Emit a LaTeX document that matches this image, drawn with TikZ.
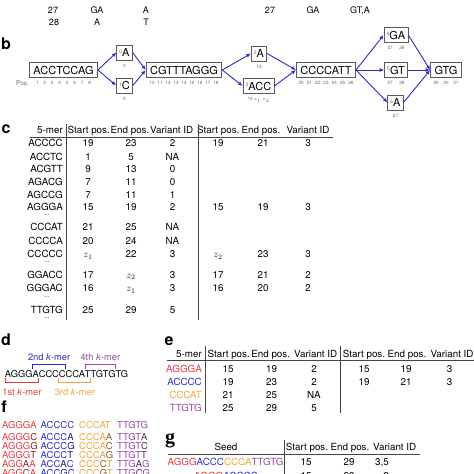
\documentclass[tikz,border=0pt]{standalone}
\usepackage{fontspec}
\setmainfont{TeX Gyre Heros}
\newfontfamily\glabelfont{Liberation Serif}
\usetikzlibrary{arrows.meta, positioning, calc}
\definecolor{kred}{HTML}{E8383D}
\definecolor{kblue}{HTML}{2B2BD0}
\definecolor{korange}{HTML}{F2A33A}
\definecolor{kpurple}{HTML}{9646A8}
\definecolor{arrowcol}{HTML}{2A2AD6}
\definecolor{idcol}{HTML}{C8465A}
\definecolor{boxcol}{HTML}{5A5A5A}
\definecolor{rulecol}{HTML}{464646}
\newcommand{\vid}[1]{\raisebox{3.4pt}{\fontsize{5}{5}\selectfont\color{idcol}#1}}
\newcommand{\mk}[1]{\textcolor{.!55!black}{#1}}

\begin{document}
\begin{tikzpicture}[x=1pt, y=-1pt,
  panel/.style={font=\fontsize{16}{16}\selectfont\bfseries, inner sep=0pt},
  seqbox/.style={draw=boxcol, line width=0.8pt, inner xsep=4pt, inner ysep=1pt,
    minimum height=15pt, font=\fontsize{11}{11}\selectfont},
  varbox/.style={seqbox, inner xsep=2.6pt},
  posnum/.style={font=\fontsize{4.6}{5}\selectfont, text=black!60, inner sep=0.3pt,
    below=3pt of #1},
  conn/.style={-{Latex[length=4.5pt, width=3.8pt]}, draw=arrowcol, line width=0.9pt},
  cell/.style={font=\fontsize{9.8}{11}\selectfont, inner sep=0pt, text height=7pt, text depth=0pt},
  kmer/.style={cell, anchor=east},
  tline/.style={draw=rulecol, line width=0.9pt},
  dots/.style={font=\fontsize{6}{6}\selectfont, inner sep=0pt},
  seq/.style={font=\fontsize{9.3}{10}\selectfont, inner sep=0pt, outer sep=0pt, anchor=base west},
  brk/.style={line width=0.9pt},
  klab/.style={font=\fontsize{9.3}{10}\selectfont, inner sep=0pt},
  mutrow/.style={font=\fontsize{9.5}{9}\selectfont, inner sep=0pt, anchor=west,
    text height=6.8pt, text depth=0pt},
]
\useasboundingbox (0,0) rectangle (474,474);
\clip (0,0) rectangle (474,474);

% =================== top: end of panel a ===================
\foreach \x/\y/\t [count=\i] in {53/10/27, 97/10/GA, 146/10/A, 270/10/27, 313/10/GA,
    360/10/{GT,A}, 54/22.2/28, 97/22.2/A, 146/22.2/T}
  \node[cell, font=\fontsize{9}{10}\selectfont] (a\i) at (\x,\y) {\t};

% =================== b: variant graph ===================
\node[panel] (lab-b) at (6,44) {b};
\node[seqbox] (acc) at (63.5,70) {ACCTCCAG};
\node[varbox] (v0) at (124.5,52.5) {\vid{0}A};
\node[varbox] (v1) at (124.5,85.5) {\vid{1}C};
\node[seqbox] (cgt) at (184,70) {CGTTTAGGG};
\node[varbox] (v2) at (259,53.5) {\vid{2}A};
\node[varbox] (v3) at (258.5,86) {\vid{3}ACC};
\node[seqbox] (ccc) at (326,70) {CCCCATT};
\node[varbox] (v4) at (396,35) {\vid{4}GA};
\node[varbox] (v5) at (396,70) {\vid{5}GT};
\node[varbox] (v6) at (395.5,102.5) {\vid{6}A};
\node[seqbox] (gtg) at (446,70) {GTG};

% positions under the boxes
\node[posnum=acc] (acc-pos) {\makebox[55pt][s]{1 2 3 4 5 6 7 8}};
\node[font=\fontsize{6.5}{7}\selectfont, text=black!60, inner sep=0.3pt,
  left=6pt of acc-pos] (pos-lab) {Pos.};
\node[posnum=v0] (v0-pos) {9};
\node[posnum=v1] (v1-pos) {9};
\node[posnum=cgt] (cgt-pos) {\makebox[69pt][s]{10 11 12 13 14 15 16 17 18}};
\node[posnum=v2] (v2-pos) {19};
\node[posnum=v3] (v3-pos) {\makebox[22pt][s]{19 $z_1$ $z_2$}};
\node[posnum=ccc] (ccc-pos) {\makebox[55pt][s]{20 21 22 23 24 25 26}};
\node[posnum=v4] (v4-pos) {\makebox[17pt][s]{27 28}};
\node[posnum=v5] (v5-pos) {\makebox[17pt][s]{27 28}};
\node[posnum=v6] (v6-pos) {27};
\node[posnum=gtg] (gtg-pos) {\makebox[25pt][s]{29 30 31}};

\foreach \a/\b in {acc/v0, acc/v1, v0/cgt, v1/cgt, cgt/v2, cgt/v3, v2/ccc, v3/ccc,
    ccc/v4, ccc/v5, ccc/v6, v4/gtg, v5/gtg, v6/gtg}
  \draw[conn] (\a.east) -- (\b.west);

% =================== c: 5-mer table ===================
\node[panel] (lab-c) at (6,129) {c};
\node[kmer] (c-h0) at (63,130) {5-mer};
\foreach \x/\t [count=\i] in {88.7/Start pos., 130/End pos., 171.7/Variant ID,
    218.3/Start pos., 261/End pos., 308/Variant ID}
  \node[cell] (c-h\i) at (\x,130) {\t};
\draw[tline] (30,137) -- (333,137);
\draw[tline] (66,124) -- (66,320);
\draw[tline] (198,124) -- (198,320);

\foreach \y/\k/\s/\e/\v [count=\i] in {143/ACCCC/19/23/2, 156.5/ACCTC/1/5/NA,
    169/ACGTT/9/13/0, 181.5/AGACG/7/11/0, 194.5/AGCCG/7/11/1, 207/AGGGA/15/19/2,
    226.5/CCCAT/21/25/NA, 240.5/CCCCA/20/24/NA, 254/CCCCC/{$z_1$}/22/3,
    274.5/GGACC/17/{$z_2$}/3, 288/GGGAC/16/{$z_1$}/3, 310/TTGTG/25/29/5} {
  \node[kmer] (c-k\i) at (63,\y) {\k};
  \node[cell] (c-s\i) at (88,\y) {\s};
  \node[cell] (c-e\i) at (131,\y) {\e};
  \node[cell] (c-v\i) at (172.5,\y) {\v};
}
\foreach \y/\s/\e/\v [count=\i] in {143/19/21/3, 207/15/19/3, 254/{$z_2$}/23/3,
    274.5/17/21/2, 288/16/20/2} {
  \node[cell] (c-ss\i) at (218,\y) {\s};
  \node[cell] (c-ee\i) at (263,\y) {\e};
  \node[cell] (c-vv\i) at (308,\y) {\v};
}
\foreach \y [count=\i] in {215.5, 262.5, 297, 318.5}
  \node[dots] (c-dots\i) at (47,\y) {...};

% =================== d: k-mers along the seed ===================
\node[panel] (lab-d) at (6,340) {d};
\node[seq] (s1) at (5,377.3) {AGGG};
\node[seq] (s2) at (s1.base east) {A};
\node[seq] (s3) at (s2.base east) {CCC};
\node[seq] (s4) at (s3.base east) {C};
\node[seq] (s5) at (s4.base east) {CCA};
\node[seq] (s6) at (s5.base east) {T};
\node[seq] (s7) at (s6.base east) {TGT};
\node[seq] (s8) at (s7.base east) {G};
\node[seq] (s9) at (s8.base east) {TG};

% brackets below: 1st and 3rd
\draw[brk, kred] ([yshift=-0.6pt]s1.base west) -- ([yshift=-5.6pt]s1.base west)
  -- ([yshift=-5.6pt]s2.base east) node[klab, midway, below=5pt] (k1) {1st \textit{k}-mer}
  -- ([yshift=-0.6pt]s2.base east);
\draw[brk, korange] ([yshift=-0.6pt]s4.base west) -- ([yshift=-5.6pt]s4.base west)
  -- ([yshift=-5.6pt]s6.base east) node[klab, midway, below=5pt] (k3) {3rd \textit{k}-mer}
  -- ([yshift=-0.6pt]s6.base east);
% brackets above: 2nd and 4th
\draw[brk, kblue] ([yshift=8.3pt]s2.base west) -- ([yshift=13.3pt]s2.base west)
  -- ([yshift=13.3pt]s4.base east) node[klab, midway, above=2.5pt] (k2) {2nd \textit{k}-mer}
  -- ([yshift=8.3pt]s4.base east);
\draw[brk, kpurple] ([yshift=8.3pt]s6.base west) -- ([yshift=13.3pt]s6.base west)
  -- ([yshift=13.3pt]s8.base east) node[klab, midway, above=2.5pt] (k4) {4th \textit{k}-mer}
  -- ([yshift=8.3pt]s8.base east);

% =================== e: hits of the four k-mers ===================
\node[panel] (lab-e) at (169,341) {e};
\node[kmer] (e-h0) at (202,354) {5-mer};
\foreach \x/\t [count=\i] in {228.7/Start pos., 270.7/End pos., 315.7/Variant ID,
    364/Start pos., 407/End pos., 452/Variant ID}
  \node[cell] (e-h\i) at (\x,354) {\t};
\draw[tline] (167,360.7) -- (474,360.7);
\draw[tline] (205,346) -- (205,413);
\draw[tline] (340.7,346) -- (340.7,413);
\foreach \y/\c/\k/\s/\e/\v [count=\i] in {369.3/kred/AGGGA/15/19/2, 382.3/kblue/ACCCC/19/23/2,
    395.3/korange/CCCAT/21/25/NA, 408/kpurple/TTGTG/25/29/5} {
  \node[kmer, text=\c] (e-k\i) at (202,\y) {\k};
  \node[cell] (e-s\i) at (228,\y) {\s};
  \node[cell] (e-e\i) at (271.5,\y) {\e};
  \node[cell] (e-v\i) at (314,\y) {\v};
}
\foreach \y/\s/\e/\v [count=\i] in {369.3/15/19/3, 382.3/19/21/3} {
  \node[cell] (e-ss\i) at (364,\y) {\s};
  \node[cell] (e-ee\i) at (406,\y) {\e};
  \node[cell] (e-vv\i) at (449.5,\y) {\v};
}

% =================== f: k-mer variants ===================
\node[panel] (lab-f) at (4,407) {f};
\foreach \y/\p/\q/\r/\t [count=\i] in {
    425.5/AGGGA/ACCCC/CCCAT/TTGTG,
    437/AGGG\mk{C}/ACCC\mk{A}/CCCA\mk{A}/TTGT\mk{A},
    446.3/AGGG\mk{G}/ACCC\mk{G}/CCCA\mk{C}/TTGT\mk{C},
    455.3/AGGG\mk{T}/ACCC\mk{T}/CCCA\mk{G}/TTGT\mk{T},
    464.3/AGG\mk{A}A/ACC\mk{A}C/CCC\mk{C}T/TTG\mk{A}G,
    473.2/AGG\mk{C}A/ACC\mk{G}C/CCC\mk{G}T/TTG\mk{C}G} {
  \node[mutrow, text=kred] (f-a\i) at (2,\y) {\p};
  \node[mutrow, text=kblue] (f-b\i) at (40.5,\y) {\q};
  \node[mutrow, text=korange] (f-c\i) at (79,\y) {\r};
  \node[mutrow, text=kpurple] (f-d\i) at (117,\y) {\t};
}

% =================== g: seeds ===================
\node[panel, font=\fontsize{20}{20}\selectfont\glabelfont\bfseries] (lab-g) at (170,440.5) {g};
\node[cell] (g-h0) at (226,446.7) {Seed};
\node[cell] (g-h1) at (307,446.7) {Start pos.};
\node[cell] (g-h2) at (350,446.7) {End pos.};
\node[cell] (g-h3) at (394.7,446.7) {Variant ID};
\draw[tline] (168,454.3) -- (420,454.3);
\draw[tline] (284.3,440) -- (284.3,474);
\node[cell] (g-k1) at (225.5,462.3)
  {\textcolor{kred}{AGGG}\textcolor{kblue}{ACCC}\textcolor{korange}{CCCA}\textcolor{kpurple}{TTGTG}};
\node[cell] (g-s1) at (306,462.3) {15};
\node[cell] (g-e1) at (349,462.3) {29};
\node[cell] (g-v1) at (382,462.3) {3,5};
\node[cell] (g-k2) at (226,475.5) {\textcolor{kred}{AGGG}\textcolor{kblue}{ACCCC}};
\node[cell] (g-s2) at (306,475.5) {15};
\node[cell] (g-e2) at (349,475.5) {23};
\node[cell] (g-v2) at (386,475.5) {2};

\end{tikzpicture}
\end{document}
